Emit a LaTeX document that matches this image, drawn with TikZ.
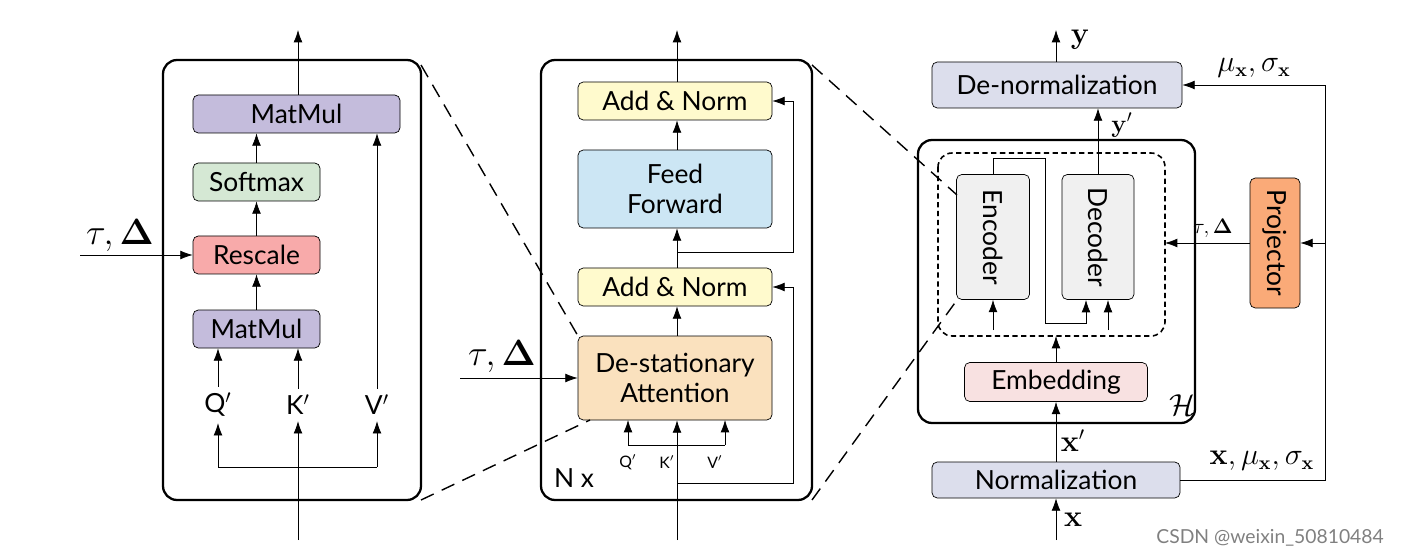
\documentclass[tikz,border=0pt]{standalone}
\usepackage{amsmath,amssymb}
\usepackage[no-math]{fontspec}
\setmainfont{Lato}
\usetikzlibrary{arrows.meta,calc}
\definecolor{cpurple}{RGB}{196,188,220}
\definecolor{cgreen}{RGB}{213,232,212}
\definecolor{cred}{RGB}{248,170,170}
\definecolor{cyellow}{RGB}{255,250,205}
\definecolor{cblue}{RGB}{204,230,244}
\definecolor{corange}{RGB}{250,225,190}
\definecolor{cgray}{RGB}{240,240,240}
\definecolor{cpink}{RGB}{248,225,225}
\definecolor{cnorm}{RGB}{220,222,236}
\definecolor{cproj}{RGB}{250,170,120}
\begin{document}
\begin{tikzpicture}[x=0.02cm,y=-0.02cm,
  >={Latex[length=7pt,width=5pt]},
  panel/.style={draw,line width=1.3pt,rounded corners=8pt},
  blk/.style={draw,rounded corners=3pt,font=\fontsize{15}{17}\selectfont,align=center,inner sep=0pt},
  lbl/.style={font=\fontsize{15}{17}\selectfont},
  zoomln/.style={dashed,line width=0.8pt,dash pattern=on 8pt off 5pt}]
\useasboundingbox (0,0) rectangle (1403,557);

% ---- left panel
\draw[panel] (163,60) rectangle (421,500);
\node[blk,fill=cpurple,minimum width=207*0.02cm,minimum height=38*0.02cm] (mm2) at (296.5,114) {MatMul};
\node[blk,fill=cgreen,minimum width=127*0.02cm,minimum height=38*0.02cm] (sm) at (256.5,182) {Softmax};
\node[blk,fill=cred,minimum width=127*0.02cm,minimum height=38*0.02cm] (rs) at (256.5,255) {Rescale};
\node[blk,fill=cpurple,minimum width=127*0.02cm,minimum height=38*0.02cm] (mm1) at (256.5,329) {MatMul};
\node[lbl] (q) at (218,405) {Q$'$};
\node[lbl] (k) at (298,405) {K$'$};
\node[lbl] (v) at (377,405) {V$'$};
\coordinate (lin) at (298,540);
\coordinate (lout) at (298,30);
\node[font=\fontsize{20}{22}\selectfont] (ltd) at (120,236) {$\tau,\boldsymbol{\Delta}$};
\coordinate (ltdin) at (80,255);
\draw[->] (lin) -- (k);
\draw (218,467) -- (377,467);
\draw[->] (218,467) -- (q);
\draw[->] (377,467) -- (v);
\draw[->] (q) -- (q|-mm1.south);
\draw[->] (k) -- (k|-mm1.south);
\draw[->] (v) -- (v|-mm2.south);
\draw[->] (mm1) -- (rs);
\draw[->] (rs) -- (sm);
\draw[->] (sm) -- (sm|-mm2.south);
\draw[->] (lout|-mm2.north) -- (lout);
\draw[->] (ltdin) -- (rs);

% ---- middle panel
\draw[panel] (541,60) rectangle (812,500);
\node[blk,fill=cyellow,minimum width=194*0.02cm,minimum height=38*0.02cm] (an2) at (675,101) {Add \& Norm};
\node[blk,fill=cblue,minimum width=194*0.02cm,minimum height=78*0.02cm] (ff) at (675,189) {Feed\\Forward};
\node[blk,fill=cyellow,minimum width=194*0.02cm,minimum height=38*0.02cm] (an1) at (675,287) {Add \& Norm};
\node[blk,fill=corange,minimum width=194*0.02cm,minimum height=84*0.02cm] (att) at (675,378) {De-stationary\\Attention};
\node[font=\fontsize{9}{10}\selectfont] (q2) at (628,462) {Q$'$};
\node[font=\fontsize{9}{10}\selectfont] (k2) at (667,462) {K$'$};
\node[font=\fontsize{9}{10}\selectfont] (v2) at (715,462) {V$'$};
\node[lbl] at (574,478) {N x};
\node[font=\fontsize{20}{22}\selectfont] (mtd) at (502,357) {$\tau,\boldsymbol{\Delta}$};
\coordinate (mtdin) at (460,378);
\coordinate (min) at (677,540);
\coordinate (mout) at (677,30);
\draw[->] (min) -- (min|-att.south);
\draw (628,445) -- (725,445);
\draw[->] (628,445) -- (628,420);
\draw[->] (725,445) -- (725,420);
\draw[->] (mtdin) -- (mtdin-|att.west);
\draw[->] (677,483) -- (793,483) |- (an1.east);
\draw[->] (att.north-|min) -- (min|-an1.south);
\draw[->] (min|-an1.north) -- (min|-ff.south);
\draw[->] (677,252) -- (793,252) |- (an2.east);
\draw[->] (min|-ff.north) -- (min|-an2.south);
\draw[->] (min|-an2.north) -- (mout);

% ---- right panel
\draw[panel] (918,140) rectangle (1195,423);
\draw[dashed,rounded corners=8pt,line width=0.9pt,dash pattern=on 3pt off 2pt] (938,153) rectangle (1165,336);
\node[blk,fill=cgray,minimum width=73*0.02cm,minimum height=125*0.02cm] (enc) at (993,237) {};
\node[lbl,rotate=-90] at (enc) {Encoder};
\node[blk,fill=cgray,minimum width=72*0.02cm,minimum height=125*0.02cm] (dec) at (1098,237) {};
\node[lbl,rotate=-90] at (dec) {Decoder};
\node[blk,fill=cpink,minimum width=183*0.02cm,minimum height=39*0.02cm] (emb) at (1056,382) {Embedding};
\node[font=\fontsize{16}{18}\selectfont] at (1182,405) {$\mathcal{H}$};
\node[blk,fill=cnorm,minimum width=250*0.02cm,minimum height=46*0.02cm] (den) at (1057,85) {De-normalization};
\node[blk,fill=cnorm,minimum width=248*0.02cm,minimum height=36*0.02cm] (nrm) at (1056,480) {Normalization};
\node[blk,fill=cproj,minimum width=50*0.02cm,minimum height=130*0.02cm] (proj) at (1275,243) {};
\node[lbl,rotate=-90] at (proj) {Projector};
\coordinate (rin) at (1056,540);
\coordinate (rout) at (1056,30);
\node[font=\fontsize{16}{18}\selectfont] at (1073,520) {$\mathbf{x}$};
\node[font=\fontsize{16}{18}\selectfont] at (1073,441) {$\mathbf{x}'$};
\node[font=\fontsize{16}{18}\selectfont] at (1080,40) {$\mathbf{y}$};
\node[font=\fontsize{14}{16}\selectfont] at (1122,125) {$\mathbf{y}'$};
\node[font=\fontsize{16}{18}\selectfont] at (1262,461) {$\mathbf{x},\mu_{\mathbf{x}},\sigma_{\mathbf{x}}$};
\node[font=\fontsize{16}{18}\selectfont] at (1254,68) {$\mu_{\mathbf{x}},\sigma_{\mathbf{x}}$};
\node[font=\fontsize{13}{15}\selectfont] at (1213,228) {$\tau,\boldsymbol{\Delta}$};
\draw[->] (rin) -- (nrm);
\draw[->] (nrm) -- (emb);
\draw[->] (emb) -- (1056,336);
\draw[->] (993,330) -- (enc.south);
\draw[->] (1108,330) -- (1108,300);
\draw[->] (enc.north) -- (993,158) -- (1045,158) -- (1045,323) -- (1086,323) -- (1086,300);
\draw[->] (dec.north) -- (dec.north|-den.south);
\draw[->] (den.north-|rout) -- (rout);
\draw[->] (nrm.east) -- (1325,480) -- (1325,85) -- (den.east);
\draw[->] (1325,243) -- (proj.east);
\draw[->] (proj.west) -- (1165,243);

% ---- zoom lines
\draw[zoomln] (421,65) -- (578,336);
\draw[zoomln] (421,500) -- (590,420);
\draw[zoomln] (812,65) -- (957,195);
\draw[zoomln] (812,500) -- (957,300);

\node[font=\fontsize{11}{12}\selectfont,text=gray,anchor=east] at (1390,538) {CSDN @weixin\_50810484};
\end{tikzpicture}
\end{document}
